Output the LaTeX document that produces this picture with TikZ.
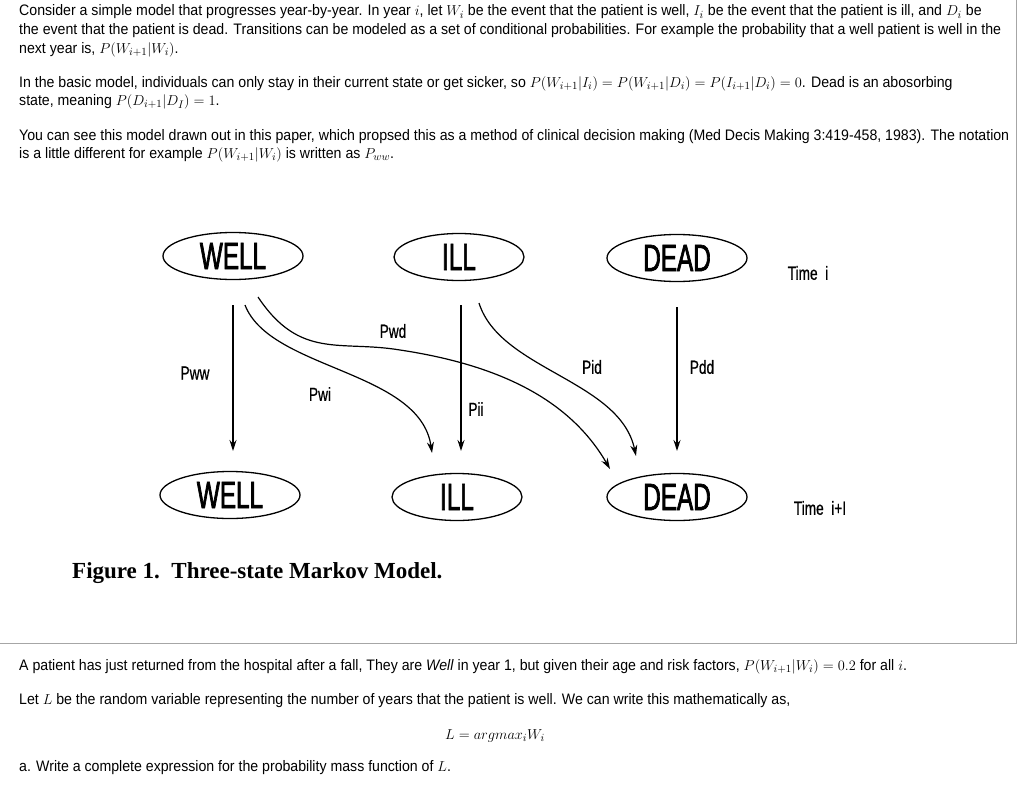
\documentclass[tikz,border=0pt]{standalone}
\usepackage{fontspec}
\setmainfont{Liberation Sans}[FakeStretch=0.93]
\newfontfamily\cond[FakeStretch=0.64,FakeBold=1.8]{Liberation Sans}
\newfontfamily\condl[FakeStretch=0.72,FakeBold=0.6]{Liberation Sans}
\newfontfamily\capfont{Liberation Serif}
\usetikzlibrary{shapes.geometric,arrows.meta}
\begin{document}
\begin{tikzpicture}[x=1pt,y=-1pt,
  txt/.style={anchor=west,inner sep=0pt,font=\fontsize{15.2}{16}\selectfont},
  st/.style={draw,ellipse,line width=1.3pt,minimum width=#1,minimum height=47pt,inner sep=0pt,font=\cond\fontsize{38}{38}\selectfont},
  lab/.style={font=\condl\fontsize{19}{19}\selectfont,inner sep=0pt},
  arr/.style={line width=1.2pt,-{Stealth[length=11pt,width=7pt]}}]
\useasboundingbox (0,0) rectangle (1024,789);
\draw[gray!70,line width=0.8pt] (-2,-2) rectangle (1016,643);
% top text
\node[txt] (t1) at (19,12) {Consider a simple model that progresses year-by-year. In year $i$, let $W_i$ be the event that the patient is well, $I_i$ be the event that the patient is ill, and $D_i$ be};
\node[txt] (t2) at (19,31) {the event that the patient is dead. Transitions can be modeled as a set of conditional probabilities. For example the probability that a well patient is well in the};
\node[txt] (t3) at (19,50) {next year is, $P(W_{i+1}|W_i)$.};
\node[txt] (t4) at (19,84) {In the basic model, individuals can only stay in their current state or get sicker, so $P(W_{i+1}|I_i)=P(W_{i+1}|D_i)=P(I_{i+1}|D_i)=0$. Dead is an abosorbing};
\node[txt] (t5) at (19,102) {state, meaning $P(D_{i+1}|D_I)=1$.};
\node[txt] (t6) at (19,137) {You can see this model drawn out in this paper, which propsed this as a method of clinical decision making (Med Decis Making 3:419-458, 1983). The notation};
\node[txt] (t7) at (19,155) {is a little different for example $P(W_{i+1}|W_i)$ is written as $P_{ww}$.};
% diagram
\node[st=140pt] (w0) at (233,256) {WELL};
\node[st=130pt] (i0) at (459,257) {ILL};
\node[st=140pt] (d0) at (677,258) {DEAD};
\node[st=140pt] (w1) at (230,495) {WELL};
\node[st=130pt] (i1) at (457,497) {ILL};
\node[st=140pt] (d1) at (677,497) {DEAD};
\node[lab] (ti) at (808,273) {Time\ \ i};
\node[lab] (ti1) at (820,508) {Time\ \ i+I};
\coordinate (a1) at (233,305); \coordinate (b1) at (233,451);
\draw[arr] (a1) -- (b1);
\coordinate (a2) at (245,305); \coordinate (b2) at (432,453);
\draw[arr] (a2) .. controls (270,370) and (420,370) .. (b2);
\coordinate (a3) at (258,297); \coordinate (b3) at (610,469);
\draw[arr] (a3) .. controls (300,360) and (340,340) .. (400,350) .. controls (500,365) and (570,400) .. (b3);
\coordinate (a4) at (461,305); \coordinate (b4) at (461,451);
\draw[arr] (a4) -- (b4);
\coordinate (a5) at (479,303); \coordinate (b5) at (636,456);
\draw[arr] (a5) .. controls (500,370) and (620,380) .. (b5);
\coordinate (a6) at (677,307); \coordinate (b6) at (677,451);
\draw[arr] (a6) -- (b6);
\node[lab] (pww) at (195,373) {Pww};
\node[lab] (pwi) at (320,394) {Pwi};
\node[lab] (pwd) at (393,331) {Pwd};
\node[lab] (pii) at (476,409) {Pii};
\node[lab] (pid) at (592,367) {Pid};
\node[lab] (pdd) at (702,367) {Pdd};
\node[anchor=west,inner sep=0pt,font=\capfont\bfseries\fontsize{23}{23}\selectfont] (cap) at (72,573) {Figure 1.\ \ Three-state Markov Model.};
% bottom text
\node[txt] (b1t) at (19,667) {A patient has just returned from the hospital after a fall, They are \emph{Well} in year 1, but given their age and risk factors, $P(W_{i+1}|W_i)=0.2$ for all $i$.};
\node[txt] (b2t) at (19,701) {Let $L$ be the random variable representing the number of years that the patient is well. We can write this mathematically as,};
\node[inner sep=0pt,font=\fontsize{15.2}{16}\selectfont] (eq) at (495,736) {$L = argmax_i W_i$};
\node[txt] (b3t) at (19,768) {a. Write a complete expression for the probability mass function of $L$.};
\end{tikzpicture}
\end{document}
